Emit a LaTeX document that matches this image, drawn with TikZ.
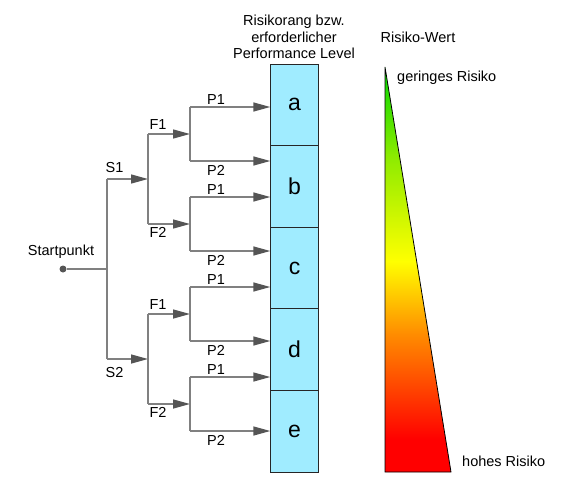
\documentclass[tikz,border=0pt]{standalone}
\usepackage{fontspec}
\setmainfont{Liberation Sans}
\usetikzlibrary{arrows.meta}
\definecolor{linegray}{RGB}{128,128,128}
\definecolor{tipgray}{RGB}{85,85,85}
\definecolor{boxfill}{RGB}{160,236,255}
\definecolor{rorange}{RGB}{255,140,0}
\definecolor{lgreen}{RGB}{140,235,0}
\definecolor{dgreen}{RGB}{0,215,0}
\pgfdeclareverticalshading{riskshade}{100bp}{color(0bp)=(red); color(29bp)=(red); color(42bp)=(rorange); color(51bp)=(yellow); color(64bp)=(lgreen); color(75bp)=(dgreen); color(100bp)=(dgreen)}
\begin{document}
\begin{tikzpicture}[x=1pt,y=-1pt,
  font=\fontsize{14.5}{16.5}\selectfont,
  conn/.style={draw=linegray, line width=1.4pt},
  arr/.style={conn, -{Triangle[length=17pt,width=9pt,color=tipgray]}},
  boxst/.style={draw=black!85, fill=boxfill, minimum width=47.6pt, minimum height=81.6pt, inner sep=0pt, line width=0.8pt, font=\fontsize{23}{23}\selectfont},
  lbl/.style={inner sep=0pt}]
\useasboundingbox (0,0) rectangle (572,493);
% boxes
\node[boxst] (a) at (294.5,104.8) {a};
\node[boxst] (b) at (294.5,186.4) {b};
\node[boxst] (c) at (294.5,268.0) {c};
\node[boxst] (d) at (294.5,349.6) {d};
\node[boxst] (e) at (294.5,431.2) {e};
% titles
\node[align=center, inner sep=0pt] (title) at (294,37) {Risikorang bzw.\\erforderlicher\\Performance Level};
\node[lbl] (rw) at (418,37) {Risiko-Wert};
% start
\node[circle, fill=tipgray, inner sep=0pt, minimum size=7pt] (start) at (63,269) {};
\node[lbl] (startlbl) at (61,252) {Startpunkt};
\coordinate (sj) at (107,269);
\draw[conn] (start) -- (sj);
\coordinate (s1) at (107,179);
\coordinate (s2) at (107,359);
\draw[conn] (s1) -- (s2);
\node[lbl] (S1) at (114.5,167.5) {S1};
\node[lbl] (S2) at (114.5,372.5) {S2};
\foreach \i/\sy in {1/179,2/359}{
  \coordinate (sf\i) at (148,\sy);
  \draw[arr] (s\i) -- (sf\i);
  \coordinate (f\i a) at (148,\sy-45);
  \coordinate (f\i b) at (148,\sy+45);
  \draw[conn] (f\i a) -- (f\i b);
  \node[lbl] (F\i a) at (158,\sy-45-9) {F1};
  \node[lbl] (F\i b) at (158,\sy+45+8) {F2};
  \foreach \j/\fy in {a/-45,b/45}{
    \coordinate (fp\i\j) at (190,\sy+\fy);
    \draw[arr] (f\i\j) -- (fp\i\j);
    \coordinate (p\i\j1) at (190,\sy+\fy-27);
    \coordinate (p\i\j2) at (190,\sy+\fy+27);
    \draw[conn] (p\i\j1) -- (p\i\j2);
    \draw[arr] (p\i\j1) -- (p\i\j1 -| a.west);
    \draw[arr] (p\i\j2) -- (p\i\j2 -| a.west);
    \node[lbl] (P\i\j1) at (216,\sy+\fy-27-7) {P1};
    \node[lbl] (P\i\j2) at (216,\sy+\fy+27+9) {P2};
  }
}
% risk triangle
\shade[shading=riskshade] (385,67) -- (385,472) -- (451,472) -- cycle;
\draw[black, line width=0.8pt, line join=miter] (385,67) -- (385,472) -- (451,472) -- cycle;
\node[lbl, anchor=west] (low) at (397,78) {geringes Risiko};
\node[lbl, anchor=west] (high) at (462,461) {hohes Risiko};
\end{tikzpicture}
\end{document}
